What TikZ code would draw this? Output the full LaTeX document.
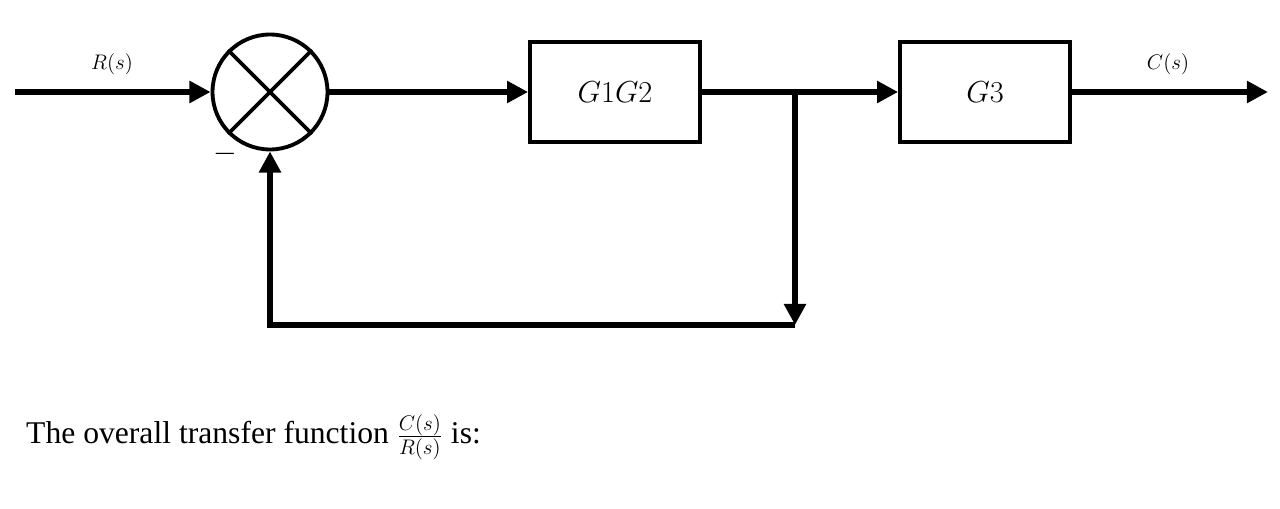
\documentclass[tikz,border=0pt]{standalone}
\usepackage{fontspec}
\setmainfont{Liberation Serif}
\usetikzlibrary{arrows.meta,positioning,calc}
\tikzset{
  blk/.style={draw, line width=2.2pt, minimum width=3.4cm, minimum height=2cm, font=\fontsize{17}{20}\selectfont},
  sig/.style={line width=3.2pt, -{Triangle[length=12pt,width=12pt]}},
  wire/.style={line width=3.2pt},
  lbl/.style={font=\fontsize{13}{16}\selectfont}
}
\begin{document}
\begin{tikzpicture}[x=0.02cm,y=-0.02cm]
    \useasboundingbox (0,0) rectangle (1280,509);
    \node[circle, draw, line width=2.2pt, minimum size=2.3cm] (sum) at (270,92) {};
    \draw[line width=2.2pt] (sum.north west) -- (sum.south east) (sum.north east) -- (sum.south west);
    \node[blk] (g12) at (615,92) {$G1G2$};
    \node[blk] (g3) at (985,92) {$G3$};
    \coordinate (in) at (15,92);
    \coordinate (out) at (1268,92);
    \coordinate (br) at (795,92);
    \coordinate (bd) at (795,325);
    \coordinate (bl) at (270,325);
    \draw[sig] (in) -- (sum.west);
    \draw[sig] (sum.east) -- (g12.west);
    \draw[wire] (g12.east) -- (br);
    \draw[sig] (br) -- (g3.west);
    \draw[sig] (g3.east) -- (out);
    \draw[sig] (br) -- (bd);
    \draw[sig] (bd) -- (bl) -- (sum.south);
    \node[lbl] (rs) at (112,64) {$R(s)$};
    \node[lbl] (cs) at (1168,64) {$C(s)$};
    \node[font=\fontsize{16}{18}\selectfont] (minus) at (225,154) {$-$};
    \node[anchor=west, font=\fontsize{18}{22}\selectfont] (q) at (20,437)
      {The overall transfer function $\frac{C(s)}{R(s)}$ is:};
\end{tikzpicture}
\end{document}
